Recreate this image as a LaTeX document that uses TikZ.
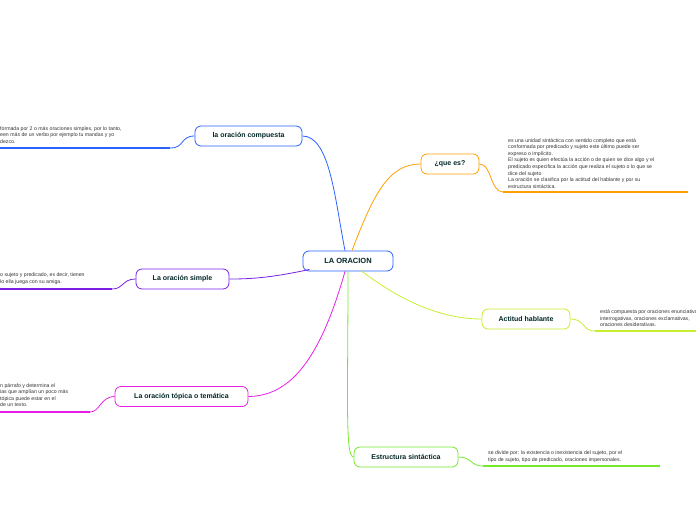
\documentclass[tikz,border=0pt]{standalone}
\usepackage{fontspec}
\setmainfont{Liberation Sans}
\begin{document}
\begin{tikzpicture}[x=1pt,y=-1pt,
  topic/.style={draw=#1,rounded corners=6pt,fill=white,line width=0.8pt,minimum height=20pt,inner xsep=10pt,font=\fontsize{7}{8}\selectfont\bfseries,text=black!70!teal},
  note/.style={anchor=north west,align=left,inner sep=0pt,font=\fontsize{5.2}{6.6}\selectfont,text=black!80},
  ul/.style={draw=#1,line width=1.4pt},
  link/.style={draw=#1,line width=0.8pt}]
\useasboundingbox (0,0) rectangle (696,520);
\clip (0,0) rectangle (696,520);
\definecolor{cb}{HTML}{2962FF}\definecolor{co}{HTML}{FFA000}\definecolor{cy}{HTML}{C6EF2E}
\definecolor{cg}{HTML}{76E82C}\definecolor{cm}{HTML}{E91EE6}\definecolor{cp}{HTML}{7B1FE6}
\node[topic=cb, minimum width=90pt,font=\fontsize{7.5}{9}\selectfont\bfseries] (main) at (348,261) {LA ORACION};
\node[topic=co, minimum width=58pt] (que) at (450,164) {¿que es?};
\node[topic=cy, minimum width=88pt] (act) at (526,319) {Actitud hablante};
\node[topic=cg, minimum width=104pt] (est) at (406,457) {Estructura sintáctica};
\node[topic=cb, minimum width=107pt] (comp) at (248.5,136) {la oración compuesta};
\node[topic=cp, minimum width=93pt] (simp) at (182.5,279) {La oración simple};
\node[topic=cm, minimum width=133pt] (top) at (181.5,396.5) {La oración tópica o temática};
\draw[link=co] (main.north) ++(4,0) .. controls (375,190) and (390,164) .. (que.west);
\draw[link=cy] (main.south) ++(14,0) .. controls (400,300) and (440,319) .. (act.west);
\draw[link=cg] (main.south) .. controls (348,400) and (345,457) .. (est.west);
\draw[link=cb] (main.north) ++(-3,0) .. controls (335,200) and (330,136) .. (comp.east);
\draw[link=cp] (main.south west) ++(7,-2) .. controls (270,278) and (250,279) .. (simp.east);
\draw[link=cm] (main.south) ++(-3,0) .. controls (320,360) and (290,396) .. (top.east);
\coordinate (u1) at (503,192); \coordinate (u1e) at (688,192);
\draw[link=co] (que.east) .. controls (492,164) and (490,192) .. (u1);
\draw[ul=co] (u1) -- (u1e);
\node[note] (n1) at (508,138) {es una unidad sintáctica con sentido completo que está\\conformada por predicado y sujeto este último puede ser\\expreso o implícito.\\El sujeto es quien efectúa la acción o de quien se dice algo y el\\predicado especifica la acción que realiza el sujeto o lo que se\\dice del sujeto\\La oración se clasifica por la actitud del hablante y por su\\estructura sintáctica.};
\coordinate (u2) at (595,331); \coordinate (u2e) at (696,331);
\draw[link=cy] (act.east) .. controls (585,319) and (582,331) .. (u2);
\draw[ul=cy] (u2) -- (u2e);
\node[note] (n2) at (600,309.5) {está compuesta por oraciones enunciativas,\\interrogativas, oraciones exclamativas,\\oraciones desiderativas.};
\coordinate (u3) at (483,466); \coordinate (u3e) at (660,466);
\draw[link=cg] (est.east) .. controls (472,457) and (470,466) .. (u3);
\draw[ul=cg] (u3) -- (u3e);
\node[note] (n3) at (488,451) {se divide por: la existencia o inexistencia del sujeto, por el\\tipo de sujeto, tipo de predicado, oraciones impersonales.};
\coordinate (u4) at (170,148); \coordinate (u4e) at (0,148);
\draw[link=cb] (comp.west) .. controls (180,136) and (185,148) .. (u4);
\draw[ul=cb] (u4) -- (u4e);
\node[note] (n4) at (0,126) {formada por 2 o más oraciones simples, por lo tanto,\\een más de un verbo por ejemplo tu mandas y yo\\dezco.};
\coordinate (u5) at (112,289); \coordinate (u5e) at (0,289);
\draw[link=cp] (simp.west) .. controls (122,279) and (124,289) .. (u5);
\draw[ul=cp] (u5) -- (u5e);
\node[note] (n5) at (0,273) {o sujeto y predicado, es decir, tienen\\lo ella juega con su amiga.};
\coordinate (u6) at (90,412); \coordinate (u6e) at (0,412);
\draw[link=cm] (top.west) .. controls (100,397) and (100,412) .. (u6);
\draw[ul=cm] (u6) -- (u6e);
\node[note] (n6) at (0,383) {n párrafo y determina el\\ias que amplían un poco más\\tópica puede estar en el\\de un texto.};
\end{tikzpicture}
\end{document}
